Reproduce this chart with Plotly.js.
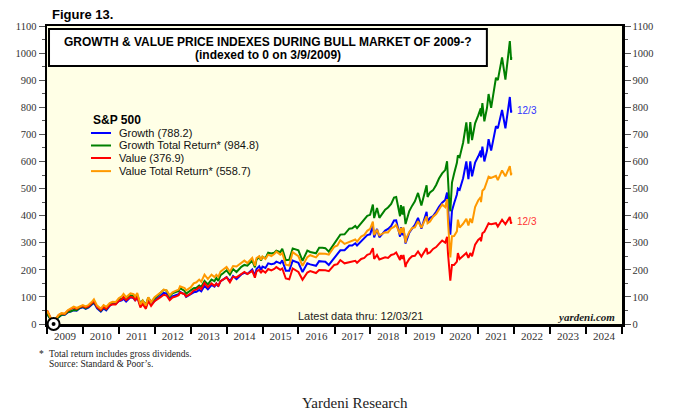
<!DOCTYPE html>
<html>
<head>
<meta charset="utf-8">
<script src="https://cdn.plot.ly/plotly-3.0.1.min.js"></script>
<style>html,body{margin:0;padding:0;background:#fff;}#chart{width:694px;height:419px;}</style>
</head>
<body>
<div id="chart"></div>
<script>
// ---- data (indexed to 0 on 3/9/2009) ----
const dates = [
'2009-01-02','2009-01-30','2009-02-27','2009-03-09','2009-03-31','2009-04-30','2009-05-29','2009-06-30','2009-07-31','2009-08-31','2009-09-30','2009-10-30','2009-11-30','2009-12-31',
'2010-01-29','2010-02-26','2010-03-31','2010-04-23','2010-05-25','2010-07-02','2010-07-30','2010-08-26','2010-09-30','2010-10-29','2010-11-30','2010-12-31',
'2011-01-31','2011-02-18','2011-03-16','2011-04-29','2011-05-31','2011-06-16','2011-07-07','2011-08-08','2011-08-31','2011-10-03','2011-10-27','2011-11-25','2011-12-30',
'2012-01-31','2012-02-29','2012-04-02','2012-04-30','2012-06-01','2012-06-29','2012-07-31','2012-08-31','2012-09-14','2012-10-31','2012-11-15','2012-12-31',
'2013-01-31','2013-02-28','2013-03-28','2013-04-18','2013-05-21','2013-06-24','2013-07-31','2013-08-30','2013-09-18','2013-10-08','2013-10-31','2013-11-29','2013-12-31',
'2014-02-03','2014-03-07','2014-04-11','2014-05-30','2014-06-30','2014-07-31','2014-09-18','2014-10-15','2014-10-31','2014-11-28','2014-12-16','2014-12-31',
'2015-01-30','2015-02-27','2015-03-31','2015-04-30','2015-05-21','2015-06-30','2015-07-20','2015-08-25','2015-09-29','2015-11-03','2015-12-31',
'2016-02-11','2016-03-31','2016-04-29','2016-06-27','2016-07-29','2016-08-31','2016-09-30','2016-11-04','2016-12-30',
'2017-01-31','2017-03-01','2017-04-13','2017-05-31','2017-06-30','2017-07-31','2017-08-18','2017-09-29','2017-10-31','2017-11-30','2017-12-29',
'2018-01-26','2018-02-08','2018-03-09','2018-04-02','2018-05-31','2018-06-29','2018-07-31','2018-08-29','2018-09-20','2018-10-29','2018-11-07','2018-11-23','2018-12-03','2018-12-24','2018-12-31',
'2019-01-31','2019-02-28','2019-03-29','2019-04-30','2019-06-03','2019-07-26','2019-08-05','2019-08-30','2019-09-30','2019-10-31','2019-11-29','2019-12-31',
'2020-01-31','2020-02-19','2020-02-28','2020-03-12','2020-03-23','2020-04-09','2020-04-30','2020-05-29','2020-06-08','2020-06-26','2020-07-31','2020-09-02','2020-09-23','2020-10-12','2020-10-30','2020-11-30','2020-12-31',
'2021-01-26','2021-01-29','2021-02-12','2021-03-04','2021-03-31','2021-04-16','2021-05-12','2021-06-30','2021-07-19','2021-08-31','2021-10-04','2021-11-18','2021-12-01','2021-12-03'
];

const growth = [
38,22,8,0,17,27,33,34,43,46,51,49,58,62,
56,60,71,78,58,46,57,50,67,74,74,84,
87,93,83,99,96,86,100,68,80,64,90,73,85,
95,104,115,112,92,102,106,110,119,109,100,110,
117,119,126,121,141,128,144,138,149,139,158,165,173,
158,177,166,183,189,185,201,178,203,213,200,212,
207,224,221,223,230,224,235,197,197,234,226,
192,224,220,215,232,231,230,218,244,
257,272,272,290,290,298,290,306,318,328,331,
362,320,351,320,345,351,362,382,383,322,357,327,352,297,306,
337,352,366,392,352,414,378,392,398,414,433,448,
458,485,414,360,330,418,445,478,500,495,538,600,535,600,545,596,618,
640,615,655,600,640,682,640,730,722,790,722,838,780,788.2
];

const growthTR = [
38,22,8,0,17,27,34,35,44,47,52,51,60,64,
58,63,74,81,61,49,61,54,71,79,79,90,
93,99,89,106,103,93,108,75,87,71,98,81,94,
104,114,126,123,102,113,118,122,132,122,112,123,
132,134,142,137,159,146,164,158,170,159,180,188,198,
182,203,192,211,218,215,234,209,237,248,234,248,
243,263,260,263,271,265,278,236,237,279,272,
233,271,266,261,281,281,280,267,297,
313,330,331,352,353,362,354,373,387,399,403,
441,391,428,392,422,430,443,467,469,398,439,404,434,369,380,
417,436,453,484,437,512,469,486,494,513,537,556,
568,601,516,452,416,522,555,595,622,616,669,744,666,745,679,741,769,
796,766,815,748,798,849,798,909,900,984,902,1044,975,984.8
];

const value = [
50,28,7,0,19,33,39,37,49,56,61,56,63,66,
61,65,76,85,62,51,63,56,69,73,72,85,
91,99,88,100,97,88,100,61,74,56,85,67,84,
91,99,108,105,88,98,101,106,116,110,102,112,
124,127,136,129,151,136,150,141,149,141,158,166,172,
154,174,172,186,192,184,196,171,194,200,188,198,
190,203,198,203,210,200,205,168,165,205,192,
163,190,195,188,199,199,198,195,218,
221,236,224,227,231,233,226,240,244,255,259,
280,240,255,238,246,244,255,258,264,236,254,240,255,210,222,
240,250,252,268,249,280,260,264,277,284,296,308,
300,322,262,200,160,218,218,230,262,240,250,262,244,262,250,293,310,
318,305,335,340,360,372,368,372,360,385,368,395,370,376.9
];

const valueTR = [
49,28,7,0,19,34,40,38,51,58,64,59,66,70,
65,70,81,91,68,57,70,63,77,82,81,95,
102,111,99,113,110,101,114,72,86,68,99,80,99,
107,116,127,124,106,117,122,127,139,133,124,135,
150,154,164,156,182,166,182,173,182,174,193,202,211,
193,214,212,226,234,225,244,215,243,250,237,249,
240,256,251,258,267,256,262,219,216,265,250,
215,247,254,246,260,260,259,256,285,
290,309,296,302,308,312,304,323,329,344,351,
378,328,348,327,339,338,353,358,366,331,355,337,357,300,315,
340,354,357,379,355,397,372,378,396,406,423,441,
431,461,381,299,246,324,325,342,385,356,370,388,364,389,373,432,456,
468,450,492,499,527,544,539,547,531,567,545,583,549,558.7
];

const seriesNames = ['Growth (788.2)','Growth Total Return* (984.8)','Value (376.9)','Value Total Return* (558.7)'];
const seriesColors = ['#0000FF','#008000','#FF0000','#FF9900'];
const seriesData = [growth, growthTR, value, valueTR];
const yTickVals = [0,100,200,300,400,500,600,700,800,900,1000,1100];
const startIndex = 3; // 3/9/2009

// ---- styling ----
const SANS = 'Arial, "Liberation Sans", sans-serif';
const SERIF = '"Liberation Serif", "Times New Roman", serif';

const traces = seriesData.map((ys, i) => ({
  x: dates, y: ys, type: 'scatter', mode: 'lines', name: seriesNames[i],
  line: {color: seriesColors[i], width: 2}, hoverinfo: 'skip'
}));
// start marker (ring + dot)
traces.push({x:[dates[startIndex]], y:[growth[startIndex]], type:'scatter', mode:'markers', cliponaxis:false,
  marker:{size:12, color:'#fff', line:{color:'#000', width:2}}, hoverinfo:'skip'});
traces.push({x:[dates[startIndex]], y:[growth[startIndex]], type:'scatter', mode:'markers', cliponaxis:false,
  marker:{size:4, color:'#000'}, hoverinfo:'skip'});
// placeholder for right axis
traces.push({x:[], y:[], yaxis:'y2', type:'scatter', mode:'lines', hoverinfo:'skip'});

const yAxisCommon = {
  range:[0,1100], tickvals: yTickVals, ticks:'outside', ticklen:6, tickwidth:1, tickcolor:'#555',
  showline:true, linewidth:2.5, linecolor:'#000', showgrid:false, zeroline:false,
  tickfont:{family:SERIF, size:10.5, color:'#333'},
  minor:{dtick:50, tick0:0, ticks:'outside', ticklen:3, tickcolor:'#555', showgrid:false},
  fixedrange:true
};

const legX0 = 0.0765, legX1 = 0.1113, legTextX = 0.1217;
const legYs = [0.641, 0.599, 0.557, 0.513];

const shapes = [
  {type:'rect', xref:'paper', yref:'paper', x0:0.0035, x1:0.765, y0:0.866, y1:0.99,
   fillcolor:'#fff', line:{color:'#000', width:2}, layer:'above'}
];
seriesColors.forEach((c,i) => shapes.push({type:'line', xref:'paper', yref:'paper',
  x0:legX0, x1:legX1, y0:legYs[i], y1:legYs[i], line:{color:c, width:2}}));

const annotations = [
  {text:'<b>Figure 13.</b>', xref:'paper', yref:'paper', x:0.005, y:1.040, xanchor:'left', yanchor:'middle', showarrow:false, font:{family:SANS, size:13, color:'#000'}},
  {text:'<b>GROWTH &amp; VALUE PRICE INDEXES DURING BULL MARKET OF 2009-?</b>', xref:'paper', yref:'paper', x:0.384, y:0.946, xanchor:'center', yanchor:'middle', showarrow:false, font:{family:SANS, size:12, color:'#000'}},
  {text:'<b>(indexed to 0 on 3/9/2009)</b>', xref:'paper', yref:'paper', x:0.384, y:0.903, xanchor:'center', yanchor:'middle', showarrow:false, font:{family:SANS, size:12, color:'#000'}},
  {text:'<b>S&amp;P 500</b>', xref:'paper', yref:'paper', x:legX0, y:0.685, xanchor:'left', yanchor:'middle', showarrow:false, font:{family:SANS, size:12, color:'#000'}},
  {text:'Latest data thru: 12/03/21', xref:'paper', yref:'paper', x:0.433, y:0.027, xanchor:'left', yanchor:'middle', showarrow:false, font:{family:SANS, size:11, color:'#222'}},
  {text:'<b><i>yardeni.com</i></b>', xref:'paper', yref:'paper', x:0.991, y:0.024, xanchor:'right', yanchor:'middle', showarrow:false, font:{family:SERIF, size:11, color:'#222'}},
  {text:'12/3', xref:'paper', yref:'y', x:0.814, y:growth[growth.length-1], xanchor:'left', yanchor:'middle', showarrow:false, font:{family:SANS, size:10, color:'#3333FF'}},
  {text:'12/3', xref:'paper', yref:'y', x:0.814, y:value[value.length-1], xanchor:'left', yanchor:'middle', showarrow:false, font:{family:SANS, size:10, color:'#FF3333'}},
  {text:'*', xref:'paper', yref:'paper', x:-0.018, y:-0.099, xanchor:'left', yanchor:'middle', showarrow:false, font:{family:SERIF, size:9.5, color:'#222'}},
  {text:'Total return includes gross dividends.', xref:'paper', yref:'paper', x:0.0, y:-0.099, xanchor:'left', yanchor:'middle', showarrow:false, font:{family:SERIF, size:9.5, color:'#222'}},
  {text:'Source: Standard &amp; Poor\u2019s.', xref:'paper', yref:'paper', x:0.0, y:-0.133, xanchor:'left', yanchor:'middle', showarrow:false, font:{family:SERIF, size:9.5, color:'#222'}},
  {text:'Yardeni Research', xref:'paper', yref:'paper', x:0.5357, y:-0.265, xanchor:'center', yanchor:'middle', showarrow:false, font:{family:SERIF, size:15, color:'#222'}}
];
seriesNames.forEach((n,i) => annotations.push({text:n, xref:'paper', yref:'paper', x:legTextX, y:legYs[i],
  xanchor:'left', yanchor:'middle', showarrow:false, font:{family:SANS, size:11, color:'#111'}}));

const layout = {
  width:694, height:419,
  margin:{l:47, r:72, t:26, b:95, pad:0},
  paper_bgcolor:'#fff', plot_bgcolor:'#FFFFE6',
  showlegend:false,
  xaxis:{type:'date', range:['2009-01-01','2025-01-01'], dtick:'M12', tick0:'2009-01-01',
    ticklabelmode:'period', tickformat:'%Y', ticks:'outside', ticklen:7, tickwidth:2, tickcolor:'#000',
    ticklabelstandoff:-7,
    showline:true, linewidth:2.5, linecolor:'#000', mirror:true, showgrid:false, zeroline:false,
    layer:'below traces',
    tickfont:{family:SERIF, size:11, color:'#333'}, fixedrange:true},
  yaxis: Object.assign({}, yAxisCommon, {side:'left'}),
  yaxis2: Object.assign({}, yAxisCommon, {side:'right', overlaying:'y', anchor:'x'}),
  shapes: shapes,
  annotations: annotations
};

Plotly.newPlot('chart', traces, layout, {displayModeBar:false, staticPlot:true});
</script>
</body>
</html>
